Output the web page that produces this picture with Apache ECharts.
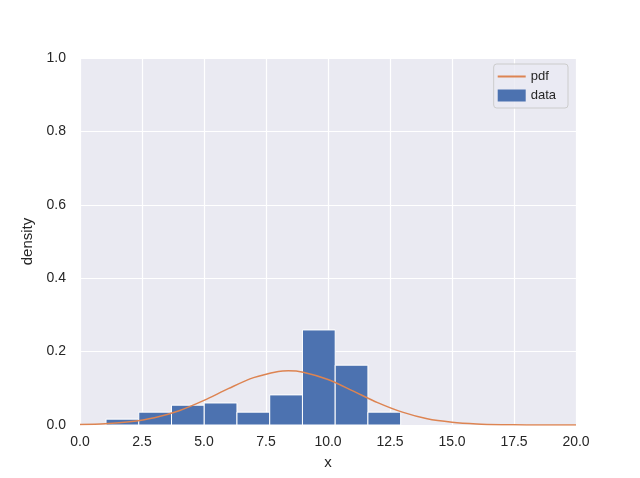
<!DOCTYPE html>
<html><head><meta charset="utf-8">
<script src="https://cdn.jsdelivr.net/npm/echarts@6/dist/echarts.min.js"></script>
<style>html,body{margin:0;padding:0;background:#fff}#c{width:640px;height:478px}</style>
</head><body><div id="c"></div>
<script>
var binEdges = [1.05,2.37,3.69,5.01,6.33,7.65,8.97,10.29,11.61,12.93];
var binHeights = [0.016,0.035,0.054,0.060,0.035,0.082,0.259,0.163,0.035];
var pdfX = [0,1,2,3,4,5,6,7,8,8.4,9,10,11,12,13,14,15,16,17,18,19,20];
var pdfY = [0.0012,0.0034,0.0089,0.020,0.039,0.067,0.0997,0.129,0.146,0.148,0.144,0.124,0.093,0.061,0.035,0.017,0.0076,0.0029,0.0009,0.0002,0,0];
var xTicks = [0,2.5,5,7.5,10,12.5,15,17.5,20];
var yTicks = [0,0.2,0.4,0.6,0.8,1.0];

var hist = binHeights.map(function(h,i){return [binEdges[i],binEdges[i+1],h];});
var pdf = pdfX.map(function(x,i){return [x,pdfY[i]];});
var txt = '#262626', font = 'Liberation Sans, Arial, sans-serif';
var chart = echarts.init(document.getElementById('c'));
chart.setOption({
  animation:false,
  textStyle:{fontFamily:font},
  grid:{left:80,right:64,top:58,bottom:53,show:true,backgroundColor:'#EAEAF2',borderWidth:0},
  legend:{orient:'vertical',right:72,top:64,itemWidth:28,itemHeight:12,itemGap:6,
    backgroundColor:'rgba(234,234,242,0.8)',borderColor:'#ccc',borderWidth:1,borderRadius:3,padding:[6,12,6,4],
    textStyle:{color:txt,fontSize:13,fontFamily:font},
    data:[{name:'pdf',icon:'path://M0,5L28,5L28,7L0,7Z'},{name:'data',icon:'rect'}]},
  xAxis:{type:'value',min:0,max:20,interval:2.5,name:'x',nameLocation:'middle',nameGap:30,
    nameTextStyle:{color:txt,fontSize:15,fontFamily:font},
    axisLine:{show:false},axisTick:{show:false},
    axisLabel:{color:txt,fontSize:14,margin:10,formatter:function(v){return v.toFixed(1);}},
    splitLine:{lineStyle:{color:'#fff',width:1.2}}},
  yAxis:{type:'value',min:0,max:1,interval:0.2,name:'density',nameLocation:'middle',nameGap:42,
    nameTextStyle:{color:txt,fontSize:15,fontFamily:font},
    axisLine:{show:false},axisTick:{show:false},
    axisLabel:{color:txt,fontSize:14,margin:14,formatter:function(v){return v.toFixed(1);}},
    splitLine:{lineStyle:{color:'#fff',width:1.2}}},
  series:[
    {name:'data',type:'custom',itemStyle:{color:'#4C72B0'},
     renderItem:function(params,api){
       var p0=api.coord([api.value(0),0]), p1=api.coord([api.value(1),api.value(2)]);
       return {type:'rect',shape:{x:p0[0],y:p1[1],width:p1[0]-p0[0],height:p0[1]-p1[1]},
         style:{fill:'#4C72B0',stroke:'#fff',lineWidth:1}};
     },encode:{x:[0,1],y:2},data:hist,z:2},
    {name:'pdf',type:'line',smooth:0.3,showSymbol:false,data:pdf,
     lineStyle:{color:'#DD8452',width:1.5},itemStyle:{color:'#DD8452'},z:3}
  ]
});
</script></body></html>
